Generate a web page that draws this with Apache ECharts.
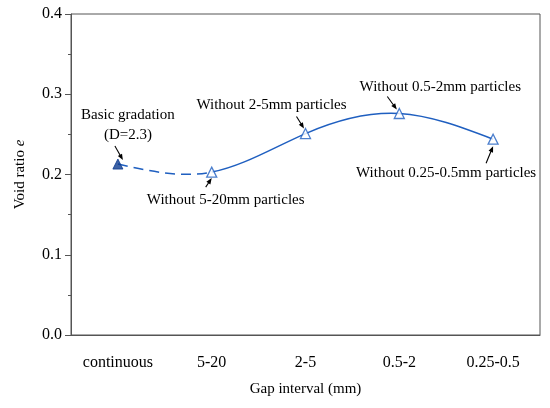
<!DOCTYPE html>
<html>
<head>
<meta charset="utf-8">
<title>Void ratio vs gap interval</title>
<script src="https://cdn.jsdelivr.net/npm/echarts@6/dist/echarts.min.js"></script>
<style>
  html, body { margin: 0; padding: 0; background: #fff; }
  #chart { width: 550px; height: 408px; }
</style>
</head>
<body>
<div id="chart"></div>
<script>
// data
const categories = ['continuous', '5-20', '2-5', '0.5-2', '0.25-0.5'];
const voidRatio = [0.213, 0.203, 0.251, 0.276, 0.244];
const yTicks = [0, 0.1, 0.2, 0.3, 0.4];
const notes = [
  'Basic gradation\n(D=2.3)',
  'Without 5-20mm particles',
  'Without 2-5mm particles',
  'Without 0.5-2mm particles',
  'Without 0.25-0.5mm particles'
];

const FONT = "'Liberation Serif', 'Times New Roman', serif";
const BLUE = '#1f5fc0';
const NAVY = '#0d3b8e';
const AXIS = '#555';

// natural cubic spline (unit spacing) -> end slopes of every segment
function splineSlopes(y) {
  let n = y.length;
  let m = new Array(n).fill(0);
  // tridiagonal solve for inner second derivatives
  let a = [], b = [], c = [], r = [];
  for (let i = 1; i < n - 1; i++) {
    a.push(1); b.push(4); c.push(1);
    r.push(6 * (y[i + 1] - 2 * y[i] + y[i - 1]));
  }
  let k = r.length;
  for (let i = 1; i < k; i++) {
    let w = a[i] / b[i - 1];
    b[i] -= w * c[i - 1];
    r[i] -= w * r[i - 1];
  }
  let s = new Array(k);
  for (let i = k - 1; i >= 0; i--) {
    s[i] = (r[i] - (i < k - 1 ? c[i] * s[i + 1] : 0)) / b[i];
  }
  for (let i = 0; i < k; i++) m[i + 1] = s[i];
  let seg = [];
  for (let i = 0; i < n - 1; i++) {
    let d = y[i + 1] - y[i];
    seg.push({
      start: d - (2 * m[i] + m[i + 1]) / 6,
      end: d + (m[i] + 2 * m[i + 1]) / 6
    });
  }
  return seg;
}
const slopes = splineSlopes(voidRatio);

let chart = echarts.init(document.getElementById('chart'));

chart.setOption({
  animation: false,
  grid: {
    left: 71,
    right: 10,
    top: 14,
    bottom: 73,
    show: true,
    borderColor: AXIS,
    borderWidth: 1
  },
  xAxis: {
    type: 'category',
    data: categories,
    boundaryGap: true,
    name: 'Gap interval (mm)',
    nameLocation: 'middle',
    nameGap: 47,
    nameTextStyle: { fontFamily: FONT, fontSize: 15, color: '#000' },
    axisLine: { lineStyle: { color: AXIS, width: 1 } },
    axisTick: { alignWithLabel: true, length: 5, lineStyle: { color: AXIS } },
    axisLabel: { fontFamily: FONT, fontSize: 16, color: '#000', margin: 20 },
    splitLine: { show: false }
  },
  yAxis: {
    type: 'value',
    min: yTicks[0],
    max: yTicks[yTicks.length - 1],
    interval: 0.1,
    name: '{a|Void ratio }{b|e}',
    nameLocation: 'middle',
    nameGap: 43,
    nameTextStyle: {
      rich: {
        a: { fontFamily: FONT, fontSize: 15, color: '#000' },
        b: { fontFamily: FONT, fontSize: 15, color: '#000', fontStyle: 'italic' }
      }
    },
    axisLine: { show: true, lineStyle: { color: AXIS, width: 1 } },
    axisTick: { show: true, length: 6, lineStyle: { color: AXIS } },
    minorTick: { show: true, splitNumber: 2, length: 3, lineStyle: { color: AXIS } },
    axisLabel: {
      fontFamily: FONT,
      fontSize: 16,
      color: '#000',
      margin: 9,
      formatter: function(v) {
        return v.toFixed(1);
      }
    },
    splitLine: { show: false },
    minorSplitLine: { show: false }
  },
  series: [
    {
      // spline through the points, dashed on the first segment
      type: 'custom',
      data: voidRatio.map(function(v, i) {
        return [i, v];
      }),
      encode: { x: 0, y: 1 },
      renderItem: function(params, api) {
        let i = params.dataIndex;
        if (i >= voidRatio.length - 1) return null;
        let y0 = voidRatio[i], y1 = voidRatio[i + 1];
        let p0 = api.coord([i, y0]);
        let p1 = api.coord([i + 1, y1]);
        let dx = (p1[0] - p0[0]) / 3;
        return {
          type: 'bezierCurve',
          shape: {
            x1: p0[0],
            y1: p0[1],
            cpx1: p0[0] + dx,
            cpy1: api.coord([i, y0 + slopes[i].start / 3])[1],
            cpx2: p1[0] - dx,
            cpy2: api.coord([i, y1 - slopes[i].end / 3])[1],
            x2: p1[0],
            y2: p1[1]
          },
          style: {
            fill: null,
            stroke: BLUE,
            lineWidth: 1.5,
            lineDash: i === 0 ? [10, 6] : null
          }
        };
      },
      z: 2
    },
    {
      type: 'scatter',
      data: voidRatio.map(function(v, i) {
        return {
          value: v,
          itemStyle: i === 0
            ? { color: NAVY, borderColor: NAVY, borderWidth: 1 }
            : { color: '#fff', borderColor: BLUE, borderWidth: 1.3 }
        };
      }),
      symbol: 'triangle',
      symbolSize: 10,
      z: 4
    }
  ]
});

// annotation text + arrow, offsets relative to each marker (px)
const noteLayout = [
  { text: [10, -39], from: [-3, -18], to: [5, -4] },
  { text: [14, 28], from: [-6, 15], to: [0, 6] },
  { text: [-34, -29], from: [-9, -17], to: [-1.5, -5] },
  { text: [41, -26], from: [-12, -17], to: [-2.5, -4] },
  { text: [-47, 34], from: [-7, 24], to: [0, 7] }
];

function arrow(x1, y1, x2, y2) {
  let dx = x2 - x1, dy = y2 - y1;
  let len = Math.sqrt(dx * dx + dy * dy);
  let ux = dx / len, uy = dy / len;
  let head = 6, half = 2.4;
  let bx = x2 - ux * head, by = y2 - uy * head;
  return [
    {
      type: 'line',
      shape: { x1: x1, y1: y1, x2: bx + ux, y2: by + uy },
      style: { stroke: '#000', lineWidth: 1.1 },
      z: 10
    },
    {
      type: 'polygon',
      shape: {
        points: [
          [x2, y2],
          [bx - uy * half, by + ux * half],
          [bx + uy * half, by - ux * half]
        ]
      },
      style: { fill: '#000' },
      z: 10
    }
  ];
}

let graphic = [];
voidRatio.forEach(function(v, i) {
  let p = chart.convertToPixel({ xAxisIndex: 0, yAxisIndex: 0 }, [i, v]);
  let l = noteLayout[i];
  graphic.push({
    type: 'text',
    x: p[0] + l.text[0],
    y: p[1] + l.text[1],
    style: {
      text: notes[i],
      fontFamily: FONT,
      fontSize: 15,
      lineHeight: 20,
      fill: '#000',
      align: 'center',
      verticalAlign: 'middle'
    },
    z: 10
  });
  graphic = graphic.concat(
    arrow(p[0] + l.from[0], p[1] + l.from[1], p[0] + l.to[0], p[1] + l.to[1])
  );
});

chart.setOption({ graphic: graphic });
</script>
</body>
</html>
